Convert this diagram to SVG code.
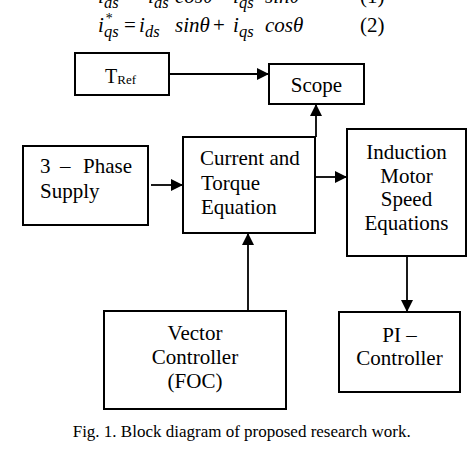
<svg xmlns="http://www.w3.org/2000/svg" width="474" height="455" viewBox="0 0 474 455">
<defs>
<style>
.box{fill:#fff;stroke:#000;stroke-width:2}
.lbl{font-family:'Liberation Serif','Times New Roman',Times,'DejaVu Serif',serif;font-size:21px;fill:#000}
.eq{font-family:'Liberation Serif','Times New Roman',Times,'DejaVu Serif',serif;font-size:21px;font-style:italic;fill:#000}
.up{font-style:normal}
.sub{font-size:16.5px}
.star{font-size:14px}
.con{stroke:#000;stroke-width:1.8;fill:none}
.cap{font-family:'Liberation Serif','Times New Roman',Times,'DejaVu Serif',serif;font-size:17px;fill:#000}
</style>
<marker id="ah" viewBox="0 0 12 12" refX="12" refY="6" markerWidth="12" markerHeight="12" markerUnits="userSpaceOnUse" orient="auto">
<path d="M0,0 L12,6 L0,12 z" fill="#000"/>
</marker>
</defs>
<rect width="474" height="455" fill="#fff"/>
<g id="equations">
<text class="eq" y="3"><tspan x="98">i</tspan><tspan class="sub" x="104" dy="5">ds</tspan><tspan class="star" x="105" dy="-14">*</tspan><tspan class="up" x="124" dy="9">=</tspan><tspan x="148">i</tspan><tspan class="sub" x="154" dy="5">ds</tspan><tspan x="175" dy="-5">cosθ</tspan><tspan class="up" x="213">−</tspan><tspan x="233">i</tspan><tspan class="sub" x="239" dy="5">qs</tspan><tspan x="265" dy="-5">sinθ</tspan><tspan class="up" x="360">(1)</tspan></text>
<text class="eq" y="32"><tspan x="98">i</tspan><tspan class="sub" x="104" dy="5">qs</tspan><tspan class="star" x="105" dy="-14">*</tspan><tspan class="up" x="124" dy="9">=</tspan><tspan x="139">i</tspan><tspan class="sub" x="145" dy="5">ds</tspan><tspan x="175" dy="-5">sinθ</tspan><tspan class="up" x="213">+</tspan><tspan x="233">i</tspan><tspan class="sub" x="239" dy="5">qs</tspan><tspan x="265" dy="-5">cosθ</tspan><tspan class="up" x="360">(2)</tspan></text>
</g>
<g id="connectors">
<line class="con" x1="169" y1="74" x2="269" y2="74" marker-end="url(#ah)"/>
<line class="con" x1="316" y1="137" x2="316" y2="104" marker-end="url(#ah)"/>
<line class="con" x1="151" y1="185" x2="183" y2="185" marker-end="url(#ah)"/>
<line class="con" x1="315" y1="177" x2="347" y2="177" marker-end="url(#ah)"/>
<line class="con" x1="248" y1="311" x2="248" y2="233" marker-end="url(#ah)"/>
<line class="con" x1="407" y1="256" x2="407" y2="312" marker-end="url(#ah)"/>
</g>
<g id="tref">
<rect class="box" x="75" y="53" width="94" height="42"/>
<text class="lbl" x="105" y="83" style="font-size:20px">T<tspan style="font-size:13px" dy="1">Ref</tspan></text>
</g>
<g id="scope">
<rect class="box" x="269" y="64" width="95" height="40"/>
<text class="lbl" x="316.5" y="91.5" text-anchor="middle">Scope</text>
</g>
<g id="supply">
<rect class="box" x="23" y="146" width="125" height="79"/>
<text class="lbl" y="173"><tspan x="40">3</tspan><tspan x="60">–</tspan><tspan x="83">Phase</tspan></text>
<text class="lbl" x="40" y="198">Supply</text>
</g>
<g id="current">
<rect class="box" x="183" y="137" width="132" height="96"/>
<text class="lbl" x="200" y="165">Current and</text>
<text class="lbl" x="201" y="190">Torque</text>
<text class="lbl" x="201" y="214">Equation</text>
</g>
<g id="motor">
<rect class="box" x="347" y="129" width="119" height="127"/>
<text class="lbl" x="406.5" y="159" text-anchor="middle">Induction</text>
<text class="lbl" x="406.5" y="183" text-anchor="middle">Motor</text>
<text class="lbl" x="406.5" y="206" text-anchor="middle">Speed</text>
<text class="lbl" x="406.5" y="230" text-anchor="middle">Equations</text>
</g>
<g id="vector">
<rect class="box" x="104" y="311" width="182" height="98"/>
<text class="lbl" x="195" y="340" text-anchor="middle">Vector</text>
<text class="lbl" x="195" y="364" text-anchor="middle">Controller</text>
<text class="lbl" x="195" y="388" text-anchor="middle">(FOC)</text>
</g>
<g id="pi">
<rect class="box" x="339" y="312" width="121" height="80"/>
<text class="lbl" x="399.5" y="342" text-anchor="middle">PI –</text>
<text class="lbl" x="399.5" y="365" text-anchor="middle">Controller</text>
</g>
<text class="cap" x="241.7" y="437" text-anchor="middle">Fig. 1. Block diagram of proposed research work.</text>
</svg>
